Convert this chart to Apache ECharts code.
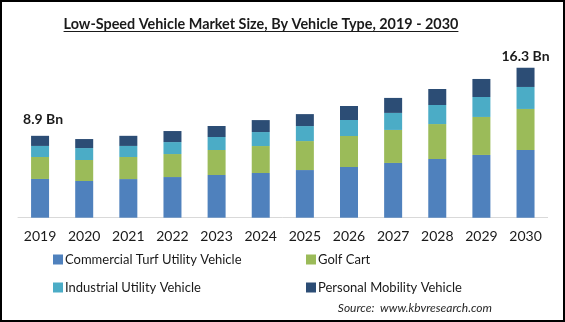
<!DOCTYPE html>
<html><head><meta charset="utf-8">
<script src="https://cdn.jsdelivr.net/npm/echarts@6/dist/echarts.min.js"></script>
<style>html,body{margin:0;padding:0;background:#fff}#c{width:565px;height:322px}</style>
</head><body><div id="c"></div>
<script>
const years = ['2019','2020','2021','2022','2023','2024','2025','2026','2027','2028','2029','2030'];
const commercialTurf = [4.21, 3.99, 4.2, 4.42, 4.64, 4.86, 5.18, 5.51, 5.95, 6.38, 6.82, 7.36];
const golfCart = [2.39, 2.28, 2.4, 2.5, 2.72, 2.93, 3.15, 3.37, 3.59, 3.80, 4.13, 4.46];
const industrialUtility = [1.20, 1.30, 1.2, 1.30, 1.41, 1.52, 1.63, 1.74, 1.85, 2.07, 2.17, 2.39];
const personalMobility = [1.10, 0.98, 1.1, 1.20, 1.20, 1.30, 1.30, 1.52, 1.63, 1.74, 1.96, 2.09];
const totalLabels = {0: '8.9 Bn', 11: '16.3 Bn'};
const titleText = 'Low-Speed Vehicle Market Size, By Vehicle Type, 2019 - 2030';

const FONT = 'Lato, "Open Sans", sans-serif';
const chart = echarts.init(document.getElementById('c'), null, {renderer: 'canvas'});
const names = ['Commercial Turf Utility Vehicle', 'Golf Cart', 'Industrial Utility Vehicle', 'Personal Mobility Vehicle'];
const colors = ['#4f81bd', '#9bbb59', '#4bacc6', '#2c4d75'];
const datas = [commercialTurf, golfCart, industrialUtility, personalMobility];

const series = datas.map((d, i) => ({
  name: names[i], type: 'bar', stack: 'total', barWidth: 18,
  itemStyle: {color: colors[i]},
  data: d.map((v, j) => {
    if (i === 3 && totalLabels[j] !== undefined) {
      return {value: v, label: {show: true, position: 'top', distance: j === 0 ? 9 : 4, offset: [j === 0 ? 3 : 0, 0],
        formatter: totalLabels[j], fontFamily: FONT, fontWeight: 'bold', fontSize: 14, color: '#1a1a1a'}};
    }
    return v;
  })
}));

const TFS = 14.4;
const tw = (function(){ const c = document.createElement('canvas').getContext('2d'); c.font = 'bold ' + TFS + 'px ' + FONT; return c.measureText(titleText).width; })();

chart.setOption({
  animation: false,
  color: colors,
  grid: {left: 18, right: 17.4, top: 33.7, bottom: 104.3, containLabel: false},
  xAxis: {type: 'category', data: years, axisTick: {show: false},
    axisLine: {lineStyle: {color: '#d9d9d9', width: 1}},
    axisLabel: {fontFamily: FONT, fontSize: 14, color: '#1a1a1a', margin: 12}},
  yAxis: {type: 'value', min: 0, max: 20, show: false, splitLine: {show: false}},
  legend: [
    {data: [names[0], names[2]], orient: 'vertical', left: 48, top: 248, itemGap: 15, itemWidth: 10, itemHeight: 10,
      icon: 'rect', textStyle: {fontFamily: FONT, fontSize: 13, color: '#1a1a1a', padding: [0,0,0,-3]}},
    {data: [names[1], names[3]], orient: 'vertical', left: 301, top: 248, itemGap: 15, itemWidth: 10, itemHeight: 10,
      icon: 'rect', textStyle: {fontFamily: FONT, fontSize: 13, color: '#1a1a1a', padding: [0,0,0,-3]}}
  ],
  graphic: [
    {type: 'rect', shape: {x: 1, y: 1, width: 563, height: 320}, style: {fill: 'none', stroke: '#000', lineWidth: 2}, silent: true},
    {type: 'text', x: 261, y: 24, style: {text: titleText, align: 'center', verticalAlign: 'middle', fontFamily: FONT, fontWeight: 'bold', fontSize: TFS, fill: '#1a1a1a'}, silent: true},
    {type: 'line', shape: {x1: 261 - tw/2, y1: 31.5, x2: 261 + tw/2, y2: 31.5}, style: {stroke: '#1a1a1a', lineWidth: 1}, silent: true},
    {type: 'text', x: 492, y: 308, style: {text: 'Source:  www.kbvresearch.com', align: 'right', verticalAlign: 'middle', fontFamily: FONT, fontStyle: 'italic', fontSize: 12, fill: '#262626'}, silent: true}
  ],
  series: series
});
</script></body></html>
